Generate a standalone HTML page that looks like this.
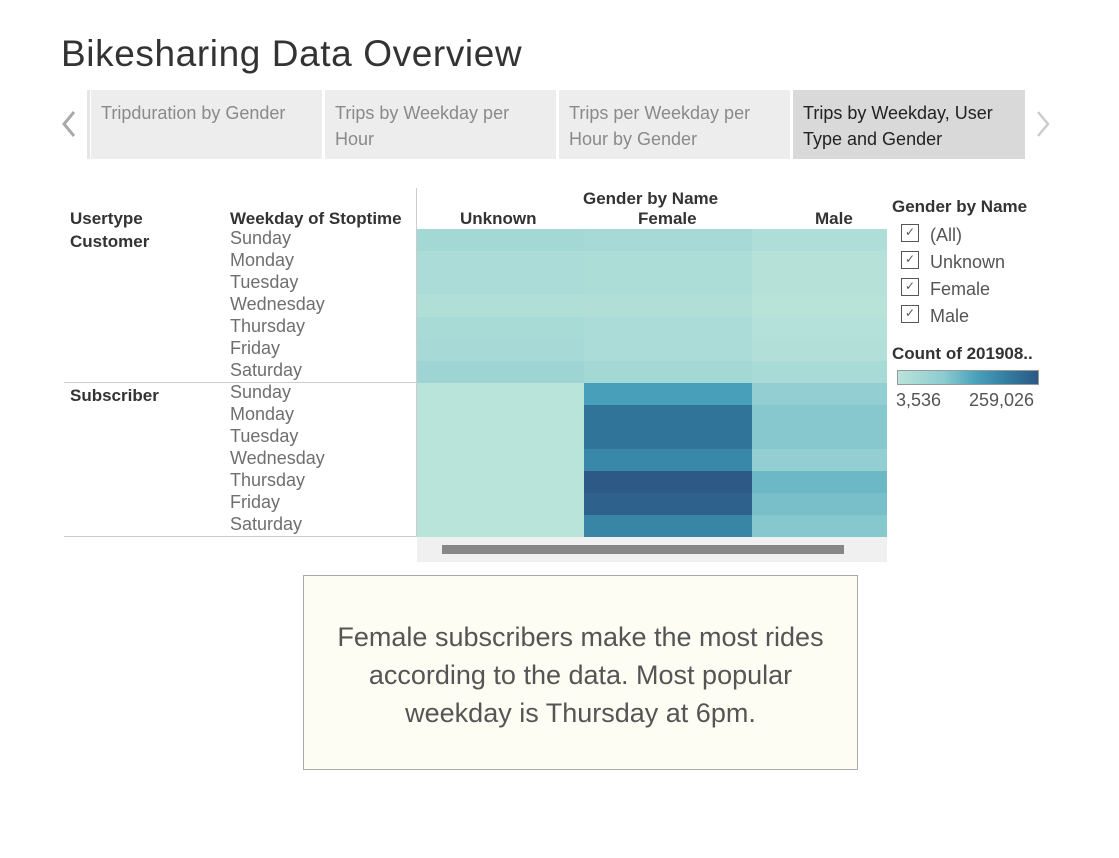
<!DOCTYPE html>
<html><head><meta charset="utf-8">
<style>
body{margin:0;width:1119px;height:858px;background:#fff;font-family:"Liberation Sans",sans-serif;position:relative;overflow:hidden}
.abs{position:absolute}
.tab{position:absolute;top:90px;height:69px;background:#ededed;color:#8a8a8a;font-size:18px;line-height:26px;padding:10px 10px;box-sizing:border-box}
.day{position:absolute;left:230px;font-size:18px;color:#6f6f6f}
.hdr{position:absolute;font-size:17px;font-weight:bold;color:#333}
.cb{position:absolute;left:901px;width:18px;height:18px;border:1px solid #555;font-size:12px;line-height:14px;text-align:center;color:#555;box-sizing:border-box}
.cbl{position:absolute;left:930px;font-size:18px;color:#555}
</style></head><body>
<div class="abs" style="left:61px;top:33px;font-size:37px;letter-spacing:0.6px;color:#333">Bikesharing Data Overview</div>
<svg class="abs" style="left:60px;top:110px" width="18" height="28"><polyline points="14,2 4,14 14,26" fill="none" stroke="#aaa" stroke-width="3"/></svg>
<svg class="abs" style="left:1034px;top:110px" width="18" height="28"><polyline points="4,2 14,14 4,26" fill="none" stroke="#ccc" stroke-width="2.5"/></svg>
<div class="abs" style="left:87px;top:90px;width:3px;height:69px;background:#e5e5e5"></div>
<div class="tab" style="left:91px;width:231px">Tripduration by Gender</div>
<div class="tab" style="left:325px;width:231px">Trips by Weekday per Hour</div>
<div class="tab" style="left:559px;width:231px">Trips per Weekday per Hour by Gender</div>
<div class="tab" style="left:793px;width:232px;background:#d9d9d9;color:#222">Trips by Weekday, User Type and Gender</div>

<div class="hdr" style="left:70px;top:209px">Usertype</div>
<div class="hdr" style="left:230px;top:209px">Weekday of Stoptime</div>
<div class="hdr" style="left:583px;top:189px">Gender by Name</div>
<div class="hdr" style="left:460px;top:209px">Unknown</div>
<div class="hdr" style="left:638px;top:209px">Female</div>
<div class="hdr" style="left:815px;top:209px">Male</div>
<div class="abs" style="left:416px;top:188px;width:1px;height:349px;background:#ccc"></div>
<div class="abs" style="left:64px;top:382px;width:823px;height:1px;background:#ccc"></div>
<div class="abs" style="left:64px;top:536px;width:823px;height:1px;background:#ccc"></div>
<div class="hdr" style="left:70px;top:232px">Customer</div>
<div class="hdr" style="left:70px;top:386px">Subscriber</div>
<div id="days"></div>
<svg id="hm" class="abs" style="left:0;top:0" width="1119" height="858"></svg>
<div class="abs" style="left:417px;top:537px;width:470px;height:25px;background:#f0f0f0"></div>
<div class="abs" style="left:442px;top:545px;width:402px;height:9px;background:#878787"></div>

<div class="hdr" style="left:892px;top:197px">Gender by Name</div>
<div class="cb" style="top:224px">✓</div><div class="cbl" style="top:225px">(All)</div>
<div class="cb" style="top:251px">✓</div><div class="cbl" style="top:252px">Unknown</div>
<div class="cb" style="top:278px">✓</div><div class="cbl" style="top:279px">Female</div>
<div class="cb" style="top:305px">✓</div><div class="cbl" style="top:306px">Male</div>
<div class="hdr" style="left:892px;top:344px">Count of 201908..</div>
<div class="abs" style="left:897px;top:370px;width:142px;height:15px;border:1px solid #999;box-sizing:border-box;background:linear-gradient(to right,#bae4da,#8ccbd0 33%,#4aa3bd 55%,#337ca0 78%,#2c5985)"></div>
<div class="abs" style="left:896px;top:390px;font-size:18px;color:#555">3,536</div>
<div class="abs" style="left:969px;top:390px;font-size:18px;color:#555">259,026</div>

<div class="abs" style="left:303px;top:575px;width:555px;height:195px;background:#fdfdf4;border:1px solid #aaa;box-sizing:border-box;text-align:center;font-size:27px;line-height:38px;color:#555;padding-top:42px">Female subscribers make the most rides<br>according to the data. Most popular<br>weekday is Thursday at 6pm.</div>
<script>
const days=["Sunday","Monday","Tuesday","Wednesday","Thursday","Friday","Saturday"];
const genders=["Unknown","Female","Male"];
const customerUnknown=[45000,30000,30000,22000,35000,38000,55000];
const customerFemale=[38000,28000,28000,20000,30000,30000,45000];
const customerMale=[25000,12000,12000,8000,15000,18000,35000];
const subscriberUnknown=[5000,5000,5000,5000,5000,5000,5000];
const subscriberFemale=[150000,215000,215000,185000,259026,245000,190000];
const subscriberMale=[75000,92000,92000,75000,115000,105000,92000];
const vmin=3536,vmax=259026;
const stops=[[0,[186,228,218]],[0.33,[140,203,208]],[0.55,[74,163,189]],[0.78,[51,124,160]],[1,[44,89,133]]];
function color(v){let t=Math.max(0,Math.min(1,(v-vmin)/(vmax-vmin)));
for(let i=1;i<stops.length;i++){if(t<=stops[i][0]){const a=stops[i-1],b=stops[i];const f=(t-a[0])/(b[0]-a[0]);
return 'rgb('+a[1].map((c,k)=>Math.round(c+(b[1][k]-c)*f)).join(',')+')';}}return 'rgb(44,89,133)';}
const colX=[417,584,752],colW=[167,168,135],rowH=22;
function yPos(group,i){return 229+group*154+i*rowH;}
const svg=document.getElementById('hm');const NS='http://www.w3.org/2000/svg';
const groups=[[customerUnknown,customerFemale,customerMale],[subscriberUnknown,subscriberFemale,subscriberMale]];
const dd=document.getElementById('days');
groups.forEach((g,gi)=>{
 days.forEach((d,i)=>{
  const l=document.createElement('div');l.className='day';l.style.top=(yPos(gi,i)-1)+'px';l.textContent=d;
  
  
  dd.appendChild(l);
 });
 g.forEach((series,ci)=>{series.forEach((v,i)=>{
  const r=document.createElementNS(NS,'rect');
  r.setAttribute('x',colX[ci]);r.setAttribute('y',yPos(gi,i));r.setAttribute('width',colW[ci]);r.setAttribute('height',rowH);r.setAttribute('fill',color(v));
  
  
  svg.appendChild(r);});});
});
</script>
</body></html>
